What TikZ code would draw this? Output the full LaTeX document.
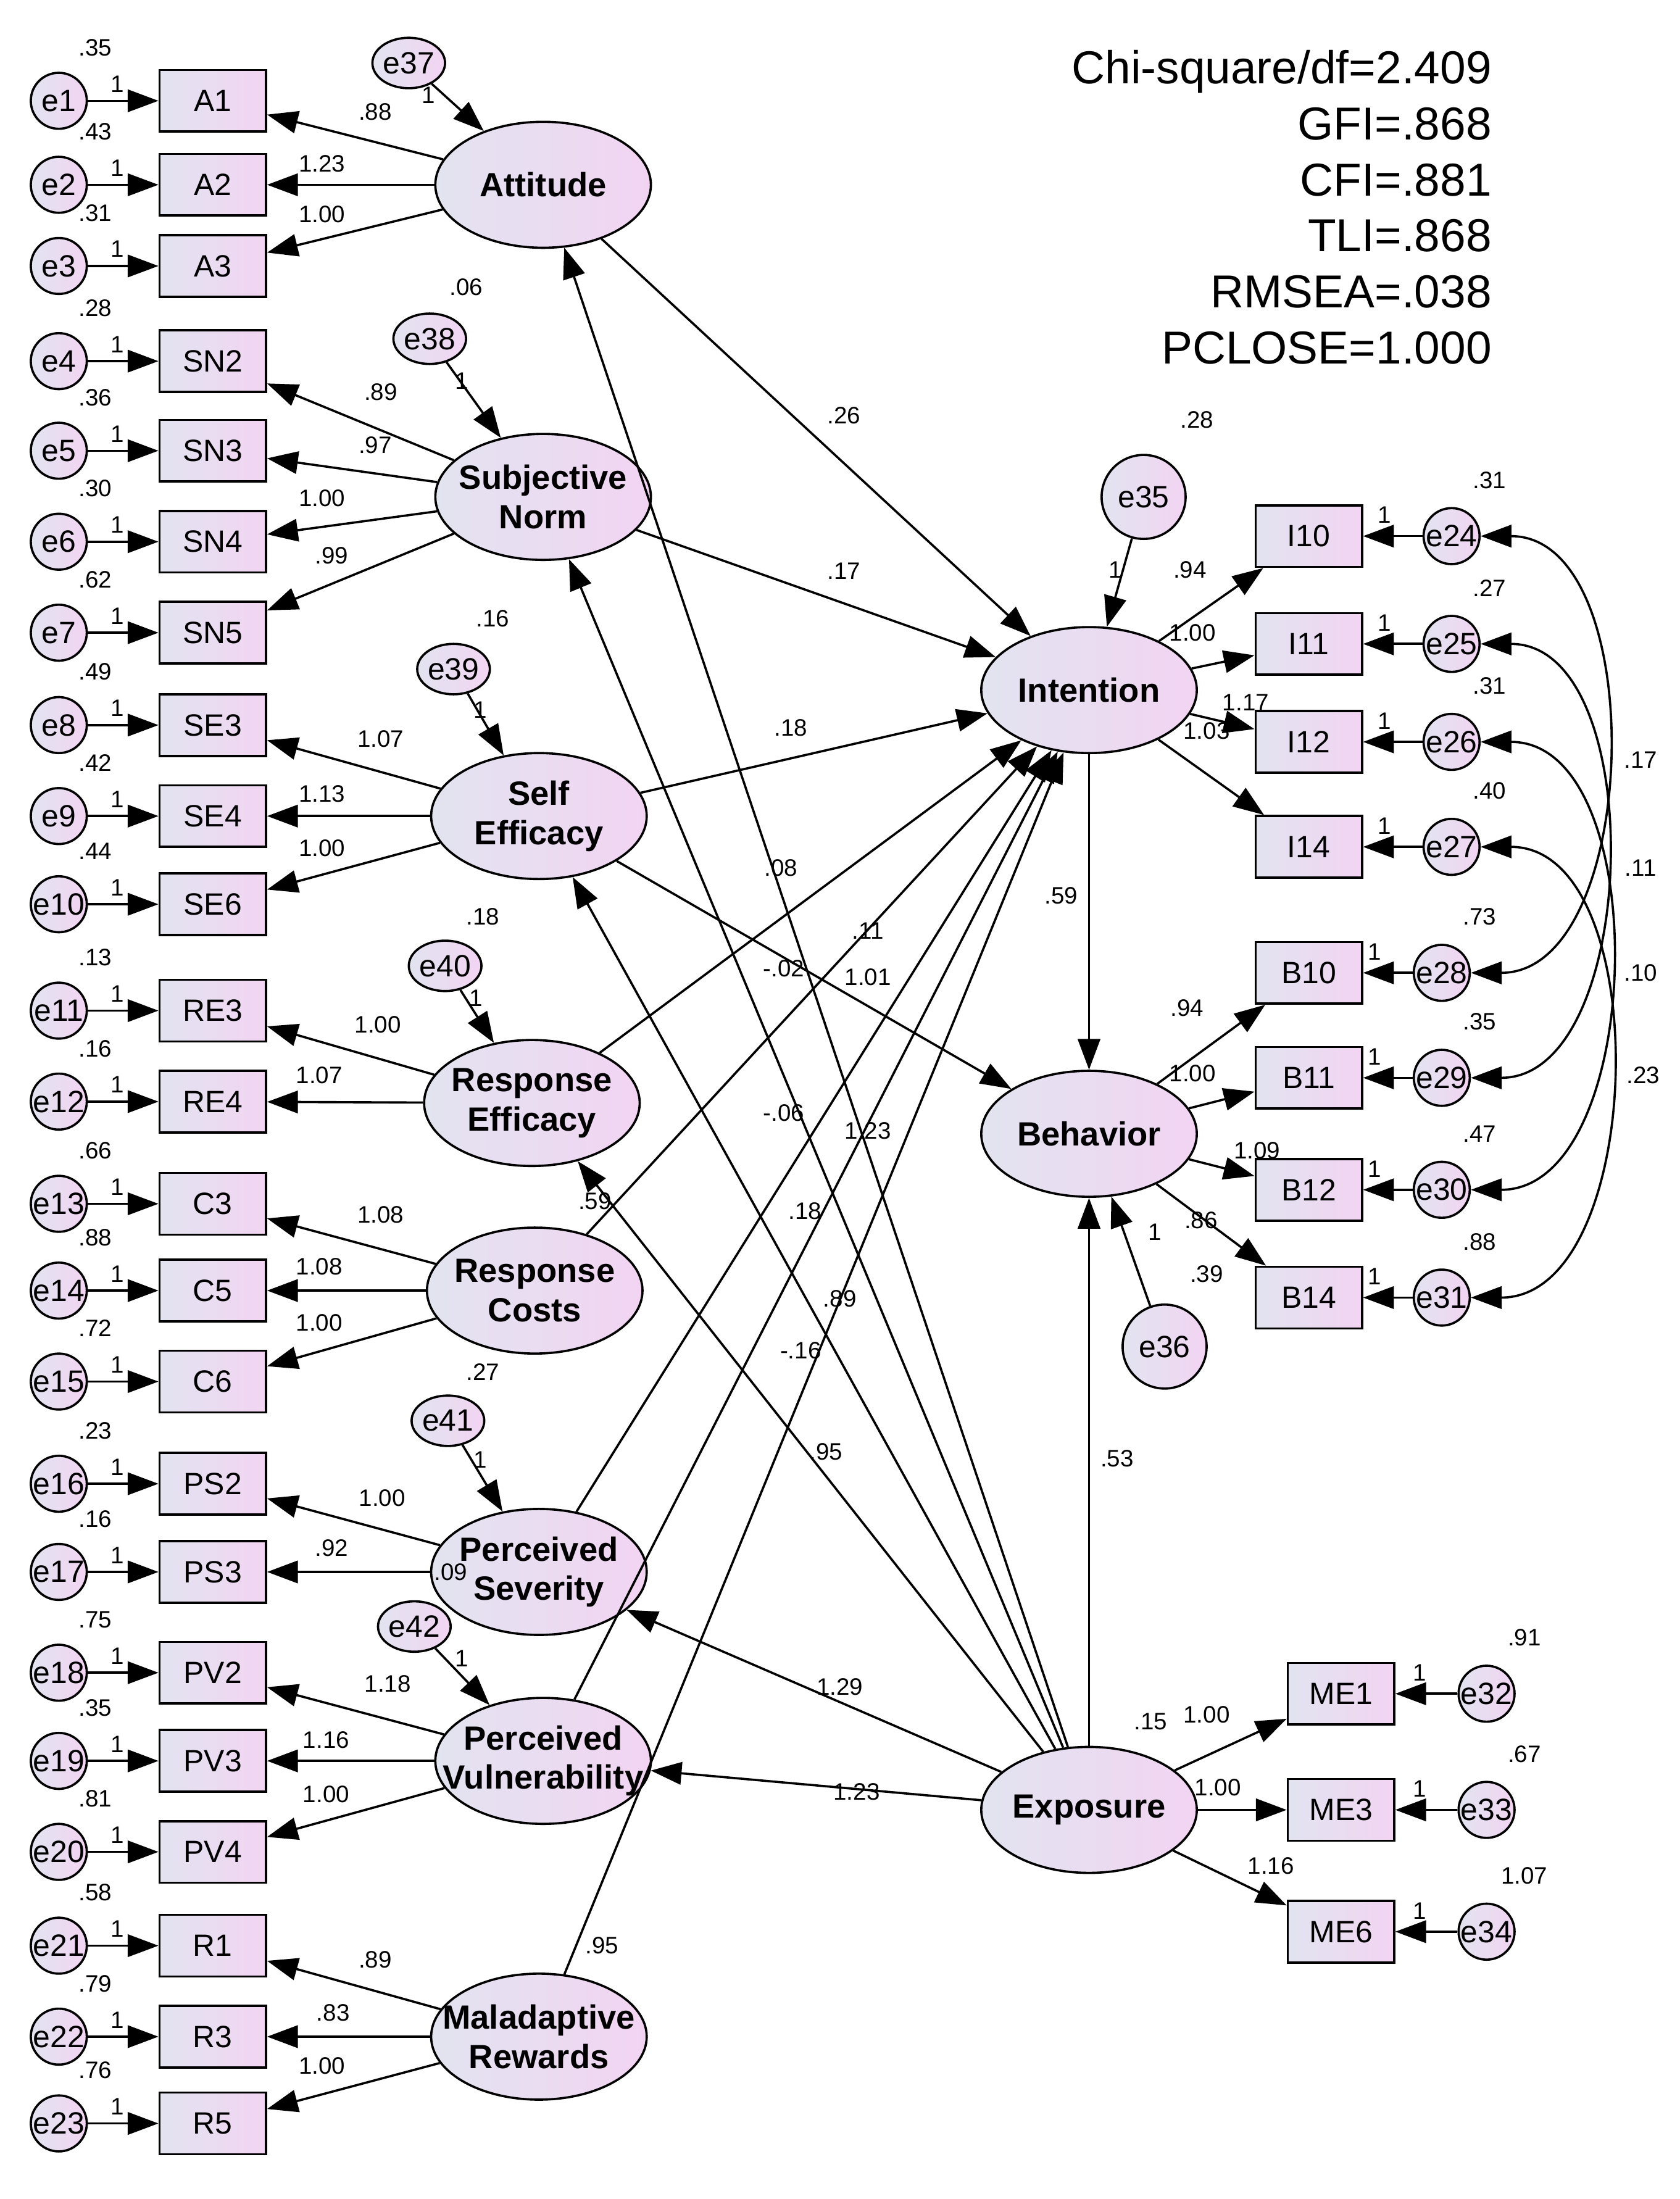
\documentclass[tikz,border=0pt]{standalone}
\usepackage{fontspec}
\setmainfont{Liberation Sans}
\usetikzlibrary{arrows.meta,shapes.geometric}
\begin{document}
\begin{tikzpicture}[x=0.5pt,y=-0.5pt,
 fillc/.style={left color=lc,right color=rc},
 err/.style={circle,draw,thick,fillc,minimum size=20pt,inner sep=0pt,font=\fontsize{11}{12}\selectfont},
 bigerr/.style={circle,draw,thick,fillc,minimum size=30pt,inner sep=0pt,font=\fontsize{11}{12}\selectfont},
 serr/.style={ellipse,draw,thick,fillc,minimum width=25pt,minimum height=18pt,inner sep=0pt,font=\fontsize{11}{12}\selectfont},
 box/.style={rectangle,draw,thick,fillc,minimum width=38pt,minimum height=22pt,inner sep=0pt,font=\fontsize{11}{12}\selectfont},
 lat/.style={ellipse,draw,thick,fillc,minimum width=77pt,minimum height=45pt,inner xsep=-14pt,inner ysep=0pt,align=center,font=\fontsize{12}{14}\selectfont\bfseries},
 lbl/.style={font=\fontsize{8.5}{9}\selectfont,inner sep=0pt},
 arr/.style={thick,-{Triangle[length=11pt,width=8pt]}},
 cov/.style={thick,{Triangle[length=11pt,width=8pt]}-{Triangle[length=11pt,width=8pt]}}]
\definecolor{lc}{RGB}{226,228,240}
\definecolor{rc}{RGB}{242,212,242}
\useasboundingbox (0,0) rectangle (1200,1571);
% fit text
\node[anchor=east,align=right,font=\fontsize{16.5}{20}\selectfont,inner sep=0pt] at (1066,148) {Chi-square/df=2.409\\GFI=.868\\CFI=.881\\TLI=.868\\RMSEA=.038\\PCLOSE=1.000};
% left indicators
\foreach \i/\nm/\y/\v in {1/A1/72/.35,2/A2/132/.43,3/A3/190/.31,4/SN2/258/.28,5/SN3/322/.36,6/SN4/387/.30,7/SN5/452/.62,8/SE3/518/.49,9/SE4/583/.42,10/SE6/646/.44,11/RE3/722/.13,12/RE4/787/.16,13/C3/860/.66,14/C5/922/.88,15/C6/987/.72,16/PS2/1060/.23,17/PS3/1123/.16,18/PV2/1195/.75,19/PV3/1258/.35,20/PV4/1323/.81,21/R1/1390/.58,22/R3/1455/.79,23/R5/1517/.76}{
 \node[err] (e\i) at (42,\y) {e\i};
 \node[box] (\nm) at (152,\y) {\nm};
 \draw[arr] (e\i) -- (\nm);
 \node[lbl] at (68,\y-38) {\v};
 \node[lbl] at (84,\y-12) {1};
}
% latents
\node[lat] (Att) at (388,132) {Attitude};
\node[lat] (SN) at (388,355) {Subjective\\Norm};
\node[lat] (SE) at (385,583) {Self\\Efficacy};
\node[lat] (RE) at (380,788) {Response\\Efficacy};
\node[lat] (RC) at (382,922) {Response\\Costs};
\node[lat] (PS) at (385,1123) {Perceived\\Severity};
\node[lat] (PV) at (388,1258) {Perceived\\Vulnerability};
\node[lat] (MR) at (385,1455) {Maladaptive\\Rewards};
\node[lat] (Int) at (778,493) {Intention};
\node[lat] (Beh) at (778,810) {Behavior};
\node[lat] (Exp) at (778,1293) {Exposure};
% latent errors
\foreach \n/\x/\y/\t in {e37/292/45/Att,e38/307/242/SN,e39/324/478/SE,e40/318/690/RE,e41/320/1015/PS,e42/296/1162/PV}{
 \node[serr] (\n) at (\x,\y) {\n};
 \draw[arr] (\n) -- (\t);
}
\node[bigerr] (e35) at (817,355) {e35};
\node[bigerr] (e36) at (832,962) {e36};
\draw[arr] (e35) -- (Int);
\draw[arr] (e36) -- (Beh);
% loadings
\foreach \l/\b in {Att/A1,Att/A2,Att/A3,SN/SN2,SN/SN3,SN/SN4,SN/SN5,SE/SE3,SE/SE4,SE/SE6,RE/RE3,RE/RE4,RC/C3,RC/C5,RC/C6,PS/PS2,PS/PS3,PV/PV2,PV/PV3,PV/PV4,MR/R1,MR/R3,MR/R5}{\draw[arr] (\l) -- (\b);}
% right indicators
\foreach \i/\nm/\x/\y/\v/\ex/\l in {24/I10/935/383/.31/1037/Int,25/I11/935/460/.27/1037/Int,26/I12/935/530/.31/1037/Int,27/I14/935/605/.40/1037/Int,28/B10/935/695/.73/1030/Beh,29/B11/935/770/.35/1030/Beh,30/B12/935/850/.47/1030/Beh,31/B14/935/927/.88/1030/Beh,32/ME1/958/1210/.91/1062/Exp,33/ME3/958/1293/.67/1062/Exp,34/ME6/958/1380/1.07/1062/Exp}{
 \node[box] (\nm) at (\x,\y) {\nm};
 \node[err] (e\i) at (\ex,\y) {e\i};
 \draw[arr] (e\i) -- (\nm);
 \draw[arr] (\l) -- (\nm);
 \node[lbl] at (\ex+27,\y-40) {\v};
 \node[lbl] at (\ex-48,\y-15) {1};
}
\draw[cov] (e24.east) to[out=0,in=0,looseness=1.0] (e28.east);
\draw[cov] (e25.east) to[out=0,in=0,looseness=1.0] (e29.east);
\draw[cov] (e26.east) to[out=0,in=0,looseness=1.0] (e30.east);
\draw[cov] (e27.east) to[out=0,in=0,looseness=1.0] (e31.east);
% structural paths
\foreach \s in {Att,SN,SE,RE,RC,PS,PV,MR}{\draw[arr] (\s) -- (Int);}
\draw[arr] (SE) -- (Beh);
\draw[arr] (Int) -- (Beh);
\foreach \t in {Att,SN,SE,RE,PS,PV,Beh}{\draw[arr] (Exp) -- (\t);}
% labels
\foreach \x/\y/\t in {268/80/.88,230/117/1.23,230/153/1.00,272/280/.89,268/318/.97,230/356/1.00,237/397/.99,272/528/1.07,230/567/1.13,230/606/1.00,270/732/1.00,228/768/1.07,272/868/1.08,228/905/1.08,228/945/1.00,273/1070/1.00,237/1106/.92,277/1203/1.18,233/1243/1.16,233/1282/1.00,268/1400/.89,238/1438/.83,230/1476/1.00,
 850/407/.94,852/452/1.00,890/502/1.17,862/522/1.03,848/720/.94,852/767/1.00,898/822/1.09,858/872/.86,862/1225/1.00,870/1277/1.00,908/1333/1.16,
 1172/543/.17,1172/620/.11,1172/695/.10,1174/768/.23,
 603/297/.26,603/408/.17,565/520/.18,558/620/.08,620/665/.11,560/692/-.02,620/698/1.01,560/795/-.06,620/808/1.23,575/865/.18,600/928/.89,572/965/-.16,590/1037/.95,425/858/.59,600/1205/1.29,612/1280/1.23,798/1042/.53,758/640/.59,
 333/205/.06,352/442/.16,345/655/.18,345/980/.27,322/1123/.09,855/300/.28,862/910/.39,822/1230/.15,430/1390/.95,
 306/68/1,330/272/1,343/507/1,340/713/1,343/1043/1,330/1185/1,797/407/1,825/880/1}{
 \node[lbl] at (\x,\y) {\t};}
\end{tikzpicture}
\end{document}
